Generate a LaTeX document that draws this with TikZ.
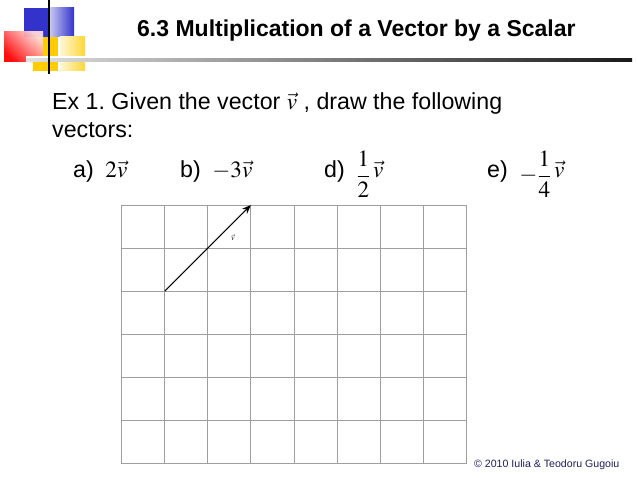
\documentclass[tikz,border=0pt]{standalone}
\usepackage{amsmath}
\usepackage{mathptmx}
\usepackage[no-math]{fontspec}
\setmainfont{Liberation Sans}
\usetikzlibrary{arrows.meta}
\definecolor{logoblue}{RGB}{51,51,204}
\definecolor{logogold}{RGB}{255,204,0}
\definecolor{logored}{RGB}{255,0,0}
\definecolor{footblue}{RGB}{30,30,90}
\tikzset{
  titletext/.style={anchor=base west, inner sep=0pt, font=\bfseries\fontsize{23}{27}\selectfont},
  bodytext/.style={anchor=base west, inner sep=0pt, font=\frenchspacing\fontsize{23.2}{27}\selectfont},
  gridline/.style={draw=black!38, line width=0.9pt},
  vecarrow/.style={line width=1.1pt, -{Stealth[length=9pt,width=7pt]}},
}
\begin{document}
\begin{tikzpicture}[x=1pt,y=-1pt]
\useasboundingbox (0,0) rectangle (638,478);
% logo
\fill[logoblue] (24,8) rectangle (49,37);
\shade[left color=logoblue!25, right color=logoblue] (49,8) rectangle (74,37);
\fill[logogold] (33,37) rectangle (58,71);
\shade[left color=logogold!15, right color=logogold!80] (60,37) rectangle (85,71);
\shade[shading=axis, top color=logored!15, bottom color=logored, shading angle=-45, opacity=0.95] (4,32) rectangle (43,62);
\fill[white] (26,56.5) rectangle (86,58.5);
\shade[left color=black!12, right color=black!90] (26,58.5) rectangle (632,61.5);
\draw[line width=2pt] (49,0) -- (49,74);
% heading
\node[titletext] (title) at (137,37) {6.3 Multiplication of a Vector by a Scalar};
\node[bodytext] (line1) at (52,110) {Ex 1. Given the vector $\vec{v}$ , draw the following};
\node[bodytext] (line2) at (52,138) {vectors:};
\node[bodytext] (ia) at (73,178) {a)\enspace$2\vec{v}$};
\node[bodytext] (ib) at (180,178) {b)\enspace$-3\vec{v}$};
\node[bodytext] (id) at (324,178) {d)\enspace\raisebox{-4pt}{$\dfrac{1}{2}$}$\,\vec{v}$};
\node[bodytext] (ie) at (487,178) {e)\enspace\raisebox{-4pt}{$-\dfrac{1}{4}$}$\,\vec{v}$};
% grid
\foreach \i in {0,...,8}
  \draw[gridline] (121.6+43.1*\i,205) -- (121.6+43.1*\i,463.6);
\foreach \j in {0,...,6}
  \draw[gridline] (121.6,205+43.1*\j) -- (466.4,205+43.1*\j);
\coordinate (tail) at (164.7,291.2);
\coordinate (tip) at (250.9,205);
\draw[vecarrow] (tail) -- (tip);
\node[font=\fontsize{8}{9}\selectfont, inner sep=0pt] (vlabel) at (233,238) {$\vec{v}$};
% footer
\node[anchor=base west, inner sep=0pt, text=footblue, font=\fontsize{10.6}{12}\selectfont] (foot) at (474,468) {\textcopyright{} 2010 Iulia \& Teodoru Gugoiu};
\end{tikzpicture}
\end{document}
